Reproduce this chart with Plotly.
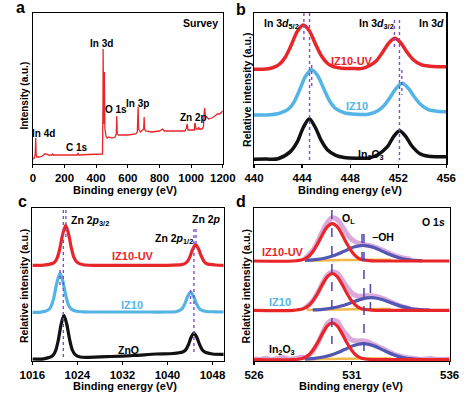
import plotly.graph_objects as go

W, H = 474, 395

RED = "#E8262A"
BLUE = "#55B4E6"
BLACK = "#111111"
SLATE = "#5157B3"
PINK = "#DCAADA"
ORANGE = "#F2B84B"
VIOLET = "#7A4FD0"
DASHC = "#4B45B0"

# ---------------- Panel a: survey ----------------
survey_E = [0, 10, 15, 18, 21, 25, 40, 60, 75, 85, 100, 120, 125, 130, 200, 280, 285, 290, 350, 430, 440,
            443, 444, 445, 447, 450, 452, 453, 455, 458, 462, 470, 480, 500, 520, 527, 530, 533, 540, 560,
            600, 650, 660, 665, 668, 680, 700, 703, 706, 712, 750, 800, 820, 830, 900, 960, 970, 975, 980,
            990, 1020, 1022, 1025, 1030, 1045, 1047, 1050, 1070, 1078, 1082, 1085, 1090, 1100, 1110, 1130,
            1150, 1165, 1180, 1200]
survey_I = [5, 6, 10, 26, 10, 7, 7, 8, 10, 10, 9, 9, 10, 9, 9, 9, 11, 9, 9.5, 9.5, 10,
            60, 115, 70, 40, 70, 92, 70, 35, 28, 28, 26, 27, 26, 27, 30, 48, 30, 29, 29,
            29, 30, 32, 57, 35, 32, 35, 47, 35, 33, 32, 33, 35, 33, 33, 33, 36, 40, 34,
            34, 34, 40, 41, 35, 35, 37, 35, 35, 38, 50, 56, 48, 47, 45, 46,
            48, 50, 50, 53]

# ---------------- Panel b: In 3d ----------------
b_in2o3_E = [440, 441, 442, 443, 443.6, 444.1, 444.6, 445.1, 445.6, 446.1, 446.8, 447.5, 448.5, 449.5,
             450.3, 451.1, 451.6, 452.1, 452.6, 453.1, 453.8, 454.5, 455.2, 456]
b_in2o3_I = [7.4, 7.6, 8.0, 14.8, 24.8, 39.2, 48, 39.2, 26, 17, 11.3, 9.2, 8.5, 8.6,
             12, 20, 29.8, 36, 30.6, 21.2, 13, 10.5, 10, 10]
b_iz10_E = [440, 441, 442, 442.8, 443.3, 443.8, 444.3, 444.8, 445.3, 445.8, 446.3, 446.8, 447.5, 448.5,
            449.5, 450.3, 450.8, 451.3, 451.8, 452.3, 452.8, 453.3, 453.8, 454.5, 455.2, 456]
b_iz10_I = [51.7, 51.8, 53, 57, 64, 77, 90.7, 97, 91, 78, 65.5, 58, 54, 52.5,
            52.5, 56, 61, 69, 78, 83.4, 79, 70.5, 63, 57, 55.5, 55]
b_uv_E = [440, 441, 441.6, 442.1, 442.6, 443.1, 443.6, 444.1, 444.6, 445.1, 445.6, 446.1, 446.6, 447.3,
          448.2, 449, 449.7, 450.2, 450.7, 451.2, 451.7, 452.2, 452.7, 453.2, 453.9, 454.6, 455.3, 456]
b_uv_I = [97.4, 97.6, 99.2, 102.3, 109.4, 121.7, 135.3, 141.7, 136, 123, 111, 103.5, 100, 98.5,
          98.2, 98.3, 101.7, 106.3, 114.5, 123.5, 128.4, 124, 115, 107.5, 102, 100.5, 100, 100]
b_ref_E = [444.15, 444.62, 444.8, 451.68, 452.1, 452.3]
b_ref_y0 = [153.7, 153.7, 101.7, 146.7, 146.7, 96.7]
b_ref_y1 = [126.7, 4.7, 78.7, 116.7, 6.7, 71.7]

# ---------------- Panel c: Zn 2p ----------------
c_zno_E = [1016, 1018, 1019.6, 1020.1, 1020.6, 1021.1, 1021.6, 1022.1, 1022.6, 1023.1, 1023.6, 1024.5, 1026,
           1030, 1034, 1038, 1041, 1042.7, 1043.2, 1043.7, 1044.2, 1044.7, 1045.2, 1045.7, 1046.2, 1046.7,
           1048, 1050]
c_zno_I = [2, 2.2, 5.2, 9.8, 20.7, 36.4, 45.7, 37, 22, 11, 6.4, 4, 3.7,
           4.5, 5.5, 7, 7.5, 9, 10.8, 16, 23.8, 28, 23.8, 16.5, 11, 8.7,
           7, 6.7]
c_iz10_E = [1016, 1017.5, 1018.8, 1019.3, 1019.8, 1020.3, 1020.9, 1021.4, 1021.9, 1022.4, 1022.9, 1023.8,
            1025, 1030, 1035, 1040, 1041.5, 1042.1, 1042.6, 1043.1, 1043.6, 1044.1, 1044.6, 1045.1, 1045.6,
            1046.1, 1047, 1048.5, 1050]
c_iz10_I = [48.7, 48.8, 51, 54.6, 63.2, 77, 88, 80, 66.3, 56.2, 52, 49.8,
            49.2, 49, 49, 49, 49.3, 50.5, 52.4, 57.4, 64.8, 69, 65, 58, 52.8,
            50.6, 49.5, 49.2, 49]
c_uv_E = [1016, 1018, 1019.8, 1020.3, 1020.8, 1021.3, 1021.9, 1022.4, 1022.9, 1023.4, 1023.9, 1025,
          1030, 1035, 1040, 1042.5, 1043.0, 1043.5, 1044.0, 1044.5, 1045.0, 1045.5, 1046.0, 1046.5, 1047.0,
          1048.5, 1050]
c_uv_I = [95.7, 95.8, 98.1, 101.7, 110.5, 124.5, 135.7, 127.7, 113.7, 103.3, 98.9, 96.3,
          95.7, 95.7, 95.7, 96.3, 97.1, 99.2, 104.4, 112, 116.3, 112.2, 105, 99.6, 97.3,
          96, 95.7]
c_ref_E = [1021.5, 1021.95, 1020.9, 1044.7, 1045.07, 1044.1]
c_ref_y0 = [151, 151, 91, 132, 132, 71]
c_ref_y1 = [3, 121, 74, 6, 114, 57]

# ---------------- Panel d: O 1s ----------------
d_ol_E = [526, 528, 528.5, 528.8, 529.0, 529.25, 529.5, 529.75, 530.0, 530.25, 530.5, 530.75, 531.0,
          531.25, 531.5, 532, 533, 536]
d_ol_uv = [101, 101, 102.5, 105.8, 110.3, 118.2, 127.5, 135.3, 138.3, 135.3, 127.5, 118.2, 110.3,
           105.1, 102.5, 101.2, 101, 101]
d_ol_iz10 = [51.7, 51.7, 53.2, 56.5, 60.9, 68.5, 77.7, 85.4, 88.3, 85.4, 77.7, 68.5, 60.9,
             55.7, 53.2, 51.9, 51.7, 51.7]
d_ol_in2o3 = [2.3, 2.3, 3.8, 7.1, 11.5, 19.2, 28.4, 36.1, 39, 36.1, 28.4, 19.2, 11.5,
              6.3, 3.8, 2.5, 2.3, 2.3]

d_oh_uv_E = [528.6, 529.1, 529.6, 530.1, 530.6, 531.1, 531.57, 532.1, 532.6, 533.1, 533.6, 534.1, 534.6]
d_oh_uv = [101.5, 102.3, 103.8, 106.6, 110.7, 115, 116.7, 114.8, 110.4, 106.2, 103.2, 101.8, 101.2]
d_oh_iz10_E = [529.0, 529.5, 530.0, 530.5, 531.0, 531.5, 532.0, 532.5, 533.0, 533.5, 534.0, 534.5, 535.0]
d_oh_iz10 = [52.1, 52.7, 54.0, 56.2, 59.5, 62.9, 64.3, 62.8, 59.3, 55.9, 53.5, 52.3, 51.8]
d_oh_in2o3_E = d_oh_uv_E
d_oh_in2o3 = [2.8, 3.6, 5.2, 8.1, 12.2, 16.5, 18.3, 16.4, 11.9, 7.6, 4.5, 3.1, 2.5]

d_raw_E = [528.6, 529.0, 529.25, 529.5, 529.75, 530.0, 530.25, 530.5, 530.75, 531.0, 531.25, 531.5,
           531.75, 532.0, 532.5, 533.0, 533.5, 534.0]
d_raw_uv = [103.3, 111.4, 120, 130.5, 139.5, 144.3, 142.5, 136, 128, 122.5, 119.5, 118,
            117, 116, 112.5, 108, 104.6, 102.8]
d_raw_iz10 = [53.7, 61.3, 69.2, 78.7, 87, 90, 89, 82.3, 75, 69, 66, 65.8,
              66.3, 66.2, 64, 60, 56, 53.5]
d_raw_in2o3_E = [526, 526.3, 526.6, 526.9, 527.2, 527.5, 527.8, 528.1, 528.4, 528.7, 529.0, 529.25, 529.5,
                 529.75, 530.0, 530.25, 530.5, 530.75, 531.0, 531.25, 531.5, 531.75, 532.0, 532.3, 532.6,
                 532.9, 533.2, 533.5, 533.8, 534.1, 534.5, 535.0, 535.5, 536]
d_raw_in2o3 = [3.2, 2.5, 3.8, 2.2, 3.5, 4.5, 2.8, 3.6, 4.4, 4.8, 10.5, 18.5, 29,
               38.5, 41.7, 40.5, 33, 26.5, 22, 21, 21.2, 20.5, 18.5, 15.8, 13.2,
               10, 7.5, 5.8, 4.2, 3.8, 2.6, 3.4, 2.4, 3.0]
d_bg_E = [528.7, 529.5, 530.5, 531.5, 532.5, 533.0]
d_bg_uv = [101.3, 101.6, 101.9, 102.1, 102.2, 102.2]
d_bg_iz10 = [52.0, 52.3, 52.6, 52.8, 52.9, 52.9]
d_bg_in2o3 = [2.6, 2.9, 3.2, 3.4, 3.5, 3.5]
d_ref_E = [529.98, 531.52, 531.62, 531.95]
d_ref_y0 = [152, 128, 128, 78]
d_ref_y1 = [18, 100, 2, 53]

fig = go.Figure()


def add_line(x, y, color, width, xa, ya, spline=True, dash=None):
    fig.add_trace(go.Scatter(
        x=x, y=y, mode="lines", xaxis=xa, yaxis=ya, showlegend=False, hoverinfo="skip",
        line=dict(color=color, width=width, shape="spline" if spline else "linear",
                  smoothing=0.8 if spline else None, dash=dash)))


# Panel a
add_line(survey_E, survey_I, RED, 1.3, "x", "y", spline=False)

# Panel b
add_line(b_in2o3_E, b_in2o3_I, BLACK, 3.5, "x2", "y2")
add_line(b_iz10_E, b_iz10_I, BLUE, 3.5, "x2", "y2")
add_line(b_uv_E, b_uv_I, RED, 3.5, "x2", "y2")
for e, a0, a1 in zip(b_ref_E, b_ref_y0, b_ref_y1):
    add_line([e, e], [a0, a1], VIOLET, 1.4, "x2", "y2", spline=False, dash="dot")

# Panel c
add_line(c_zno_E, c_zno_I, BLACK, 3.2, "x3", "y3")
add_line(c_iz10_E, c_iz10_I, BLUE, 3.2, "x3", "y3")
add_line(c_uv_E, c_uv_I, RED, 3.2, "x3", "y3")
for e, a0, a1 in zip(c_ref_E, c_ref_y0, c_ref_y1):
    add_line([e, e], [a0, a1], VIOLET, 1.4, "x3", "y3", spline=False, dash="dot")

# Panel d
for rawE, raw, bg, ohE, oh, ol in [
    (d_raw_E, d_raw_uv, d_bg_uv, d_oh_uv_E, d_oh_uv, d_ol_uv),
    (d_raw_E, d_raw_iz10, d_bg_iz10, d_oh_iz10_E, d_oh_iz10, d_ol_iz10),
    (d_raw_in2o3_E, d_raw_in2o3, d_bg_in2o3, d_oh_in2o3_E, d_oh_in2o3, d_ol_in2o3),
]:
    add_line(rawE, raw, PINK, 5, "x4", "y4")
    add_line(d_bg_E, bg, ORANGE, 2.5, "x4", "y4")
    add_line(ohE, oh, SLATE, 3.2, "x4", "y4")
    add_line(d_ol_E, ol, RED, 3.2, "x4", "y4")
for e, a0, a1 in zip(d_ref_E, d_ref_y0, d_ref_y1):
    add_line([e, e], [a0, a1], DASHC, 1.5, "x4", "y4", spline=False, dash="dash")


def fx(px):
    return px / W


def fy(py):
    return 1 - py / H


TICKFONT = dict(family="Liberation Sans, Arial", size=11.5, color="black", weight="bold")


def xaxis(dom, rng, ticks, anchor):
    return dict(domain=[fx(dom[0]), fx(dom[1])], range=rng, tickvals=ticks, anchor=anchor,
                showline=True, mirror=True, linecolor="black", linewidth=1.3,
                ticks="outside", ticklen=3, tickwidth=1.2, tickcolor="black",
                tickfont=TICKFONT, showgrid=False, zeroline=False, fixedrange=True)


def yaxis(dom, rng, anchor):
    return dict(domain=[fy(dom[1]), fy(dom[0])], range=rng, anchor=anchor,
                showline=True, mirror=True, linecolor="black", linewidth=1.3,
                showticklabels=False, ticks="", showgrid=False, zeroline=False, fixedrange=True)


fig.update_layout(
    width=W, height=H, margin=dict(l=0, r=0, t=0, b=0),
    paper_bgcolor="white", plot_bgcolor="white", showlegend=False,
    xaxis=xaxis((21, 222), [0, 1200], [0, 200, 400, 600, 800, 1000, 1200], "y"),
    yaxis=yaxis((13, 164), [0, 151], "x"),
    xaxis2=xaxis((255, 458.5), [440, 456], [440, 444, 448, 452, 456], "y2"),
    yaxis2=yaxis((13, 164), [2.7, 153.7], "x2"),
    xaxis3=xaxis((20.5, 223), [1016, 1050], [1016, 1024, 1032, 1040, 1048], "y3"),
    yaxis3=yaxis((208.3, 361), [0, 152.7], "x3"),
    xaxis4=xaxis((255, 462), [526, 536], [526, 531, 536], "y4"),
    yaxis4=yaxis((208.3, 361), [1, 153.7], "x4"),
)

FONT = "Liberation Sans, Arial"
ann = []


def label(text, x, y, size=10.5, color="black", angle=0):
    ann.append(dict(text=text, x=fx(x), y=fy(y), xref="paper", yref="paper", showarrow=False,
                    xanchor="center", yanchor="middle", textangle=angle,
                    font=dict(family=FONT, size=size, color=color, weight="bold")))


# panel letters
label("a", 8, 8, 16)
label("b", 241, 9, 16)
label("c", 10, 202, 16)
label("d", 241, 202, 16)

# axis titles
for cx, cy in [(118, 189.5), (357, 189.5), (118, 386), (358, 386)]:
    label("Binding energy (eV)", cx, cy, 11)
label("Intensity (a.u.)", 11.7, 95.5, 10, angle=-90)
label("Relative intensity (a.u.)", 247, 89.5, 10.5, angle=-90)
label("Relative intensity (a.u.)", 11.7, 286, 10.5, angle=-90)
label("Relative intensity (a.u.)", 247, 286, 10.5, angle=-90)

# panel a labels
label("Survey", 198, 23, 10.5)
label("In 3d", 94, 43, 10)
label("O 1s", 109, 109, 10)
label("In 3p", 132, 103, 10)
label("Zn 2p", 191, 117, 10)
label("In 4d", 32, 133, 10)
label("C 1s", 68, 147, 10)

# panel b labels
label("In 3<i>d</i><sub>5/2</sub>", 284, 24, 10.5)
label("In 3<i>d</i><sub>3/2</sub>", 385, 24, 10.5)
label("In 3<i>d</i>", 443, 23, 10.5)
label("IZ10-UV", 359, 61, 11, RED)
label("IZ10", 364, 106, 11, BLUE)
label("In<sub>2</sub>O<sub>3</sub>", 379, 155, 10.5)

# panel c labels
label("Zn 2<i>p</i><sub>3/2</sub>", 81, 221, 10.5)
label("Zn 2<i>p</i>", 205, 219, 10.5)
label("Zn 2<i>p</i><sub>1/2</sub>", 170, 239, 10.5)
label("IZ10-UV", 127, 256, 11, RED)
label("IZ10", 126, 305, 11, BLUE)
label("ZnO", 122.5, 350, 10.5)

# panel d labels
label("O<sub>L</sub>", 355, 219, 10.5)
label("\u2212OH", 391, 237, 10.5)
label("O 1<i>s</i>", 445, 222, 10.5)
label("IZ10-UV", 286, 252, 11, RED)
label("IZ10", 283, 302, 11, BLUE)
label("In<sub>2</sub>O<sub>3</sub>", 285, 350, 10.5)

fig.update_layout(annotations=ann)
fig.write_html("out.html", config={"displayModeBar": False, "staticPlot": True},
               post_script="document.body.style.margin='0px';")
